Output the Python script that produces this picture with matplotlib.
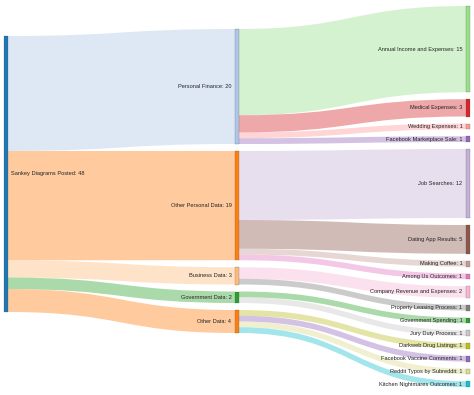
import matplotlib
matplotlib.use("Agg")
import matplotlib.pyplot as plt
from matplotlib.path import Path
from matplotlib.patches import PathPatch, Rectangle
from matplotlib.colors import to_rgba

# ---------------- data ----------------
node_labels = [
    "Sankey Diagrams Posted",
    "Personal Finance", "Other Personal Data", "Business Data", "Government Data", "Other Data",
    "Annual Income and Expenses", "Medical Expenses", "Wedding Expenses", "Facebook Marketplace Sale",
    "Job Searches", "Dating App Results", "Making Coffee", "Among Us Outcomes",
    "Company Revenue and Expenses", "Property Leasing Process",
    "Government Spending", "Jury Duty Process",
    "Darkweb Drug Listings", "Facebook Vaccine Comments", "Reddit Typos by Subreddit",
    "Kitchen Nightmares Outcomes",
]
node_colors = [
    "#1f77b4",
    "#aec7e8", "#ff7f0e", "#ffbb78", "#2ca02c", "#ff7f0e",
    "#98df8a", "#d62728", "#ff9896", "#9467bd",
    "#c5b0d5", "#8c564b", "#c49c94", "#e377c2",
    "#f7b6d2", "#7f7f7f",
    "#2ca02c", "#c7c7c7",
    "#bcbd22", "#9467bd", "#dbdb8d",
    "#17becf",
]
link_source = [0, 0, 0, 0, 0,
               1, 1, 1, 1,
               2, 2, 2, 2,
               3, 3,
               4, 4,
               5, 5, 5, 5]
link_target = [1, 2, 3, 4, 5,
               6, 7, 8, 9,
               10, 11, 12, 13,
               14, 15,
               16, 17,
               18, 19, 20, 21]
link_value = [20, 19, 3, 2, 4,
              15, 3, 1, 1,
              12, 5, 1, 1,
              2, 1,
              1, 1,
              1, 1, 1, 1]

# ---------------- layout (pixels) ----------------
W, H = 474, 395
col_x = [4, 235, 466]
col_top = [36, 29, 6]
node_w = 4
scale = 5.75
gap = 7.0
link_alpha = 0.4

n = len(node_labels)
# depth of each node
depth = [0] * n
for _ in range(n):
    for s, t in zip(link_source, link_target):
        depth[t] = max(depth[t], depth[s] + 1)
# node value
inflow = [0] * n
outflow = [0] * n
for s, t, v in zip(link_source, link_target, link_value):
    outflow[s] += v
    inflow[t] += v
nval = [max(a, b) for a, b in zip(inflow, outflow)]

ny0 = [0.0] * n
ny1 = [0.0] * n
for c in range(3):
    y = col_top[c]
    for i in range(n):
        if depth[i] == c:
            ny0[i] = y
            ny1[i] = y + nval[i] * scale
            y = ny1[i] + gap

fig = plt.figure(figsize=(W / 100, H / 100), dpi=100)
ax = fig.add_axes([0, 0, 1, 1])
ax.set_xlim(0, W)
ax.set_ylim(H, 0)
ax.axis("off")

# links
src_off = list(ny0)
tgt_off = list(ny0)
order = sorted(range(len(link_value)), key=lambda k: (link_source[k], ny0[link_target[k]]))
link_pos = {}
for k in order:
    s = link_source[k]
    h = link_value[k] * scale
    link_pos[k] = [src_off[s], src_off[s] + h]
    src_off[s] += h
order_t = sorted(range(len(link_value)), key=lambda k: (link_target[k], ny0[link_source[k]]))
for k in order_t:
    t = link_target[k]
    h = link_value[k] * scale
    link_pos[k] += [tgt_off[t], tgt_off[t] + h]
    tgt_off[t] += h

for k in range(len(link_value)):
    s, t = link_source[k], link_target[k]
    x0 = col_x[depth[s]] + node_w
    x1 = col_x[depth[t]]
    xm = (x0 + x1) / 2
    s0, s1, t0, t1 = link_pos[k]
    verts = [(x0, s0), (xm, s0), (xm, t0), (x1, t0),
             (x1, t1), (xm, t1), (xm, s1), (x0, s1), (x0, s0)]
    codes = [Path.MOVETO, Path.CURVE4, Path.CURVE4, Path.CURVE4,
             Path.LINETO, Path.CURVE4, Path.CURVE4, Path.CURVE4, Path.CLOSEPOLY]
    ax.add_patch(PathPatch(Path(verts, codes), facecolor=to_rgba(node_colors[t], link_alpha),
                           edgecolor="none", lw=0, zorder=1))

# nodes
for i in range(n):
    x = col_x[depth[i]]
    ax.add_patch(Rectangle((x, ny0[i]), node_w, ny1[i] - ny0[i], facecolor=node_colors[i],
                           edgecolor=to_rgba("#444444", 0.5), lw=0.3, zorder=2))
    label = f"{node_labels[i]}: {nval[i]}"
    yc = (ny0[i] + ny1[i]) / 2
    if depth[i] == 0:
        ax.text(x + node_w + 3, yc, label, ha="left", va="center", fontsize=4.1,
                family="Liberation Sans", color="#222222", zorder=3)
    else:
        ax.text(x - 3.5, yc, label, ha="right", va="center", fontsize=4.1,
                family="Liberation Sans", color="#222222", zorder=3)

fig.savefig("out.png", dpi=100)
